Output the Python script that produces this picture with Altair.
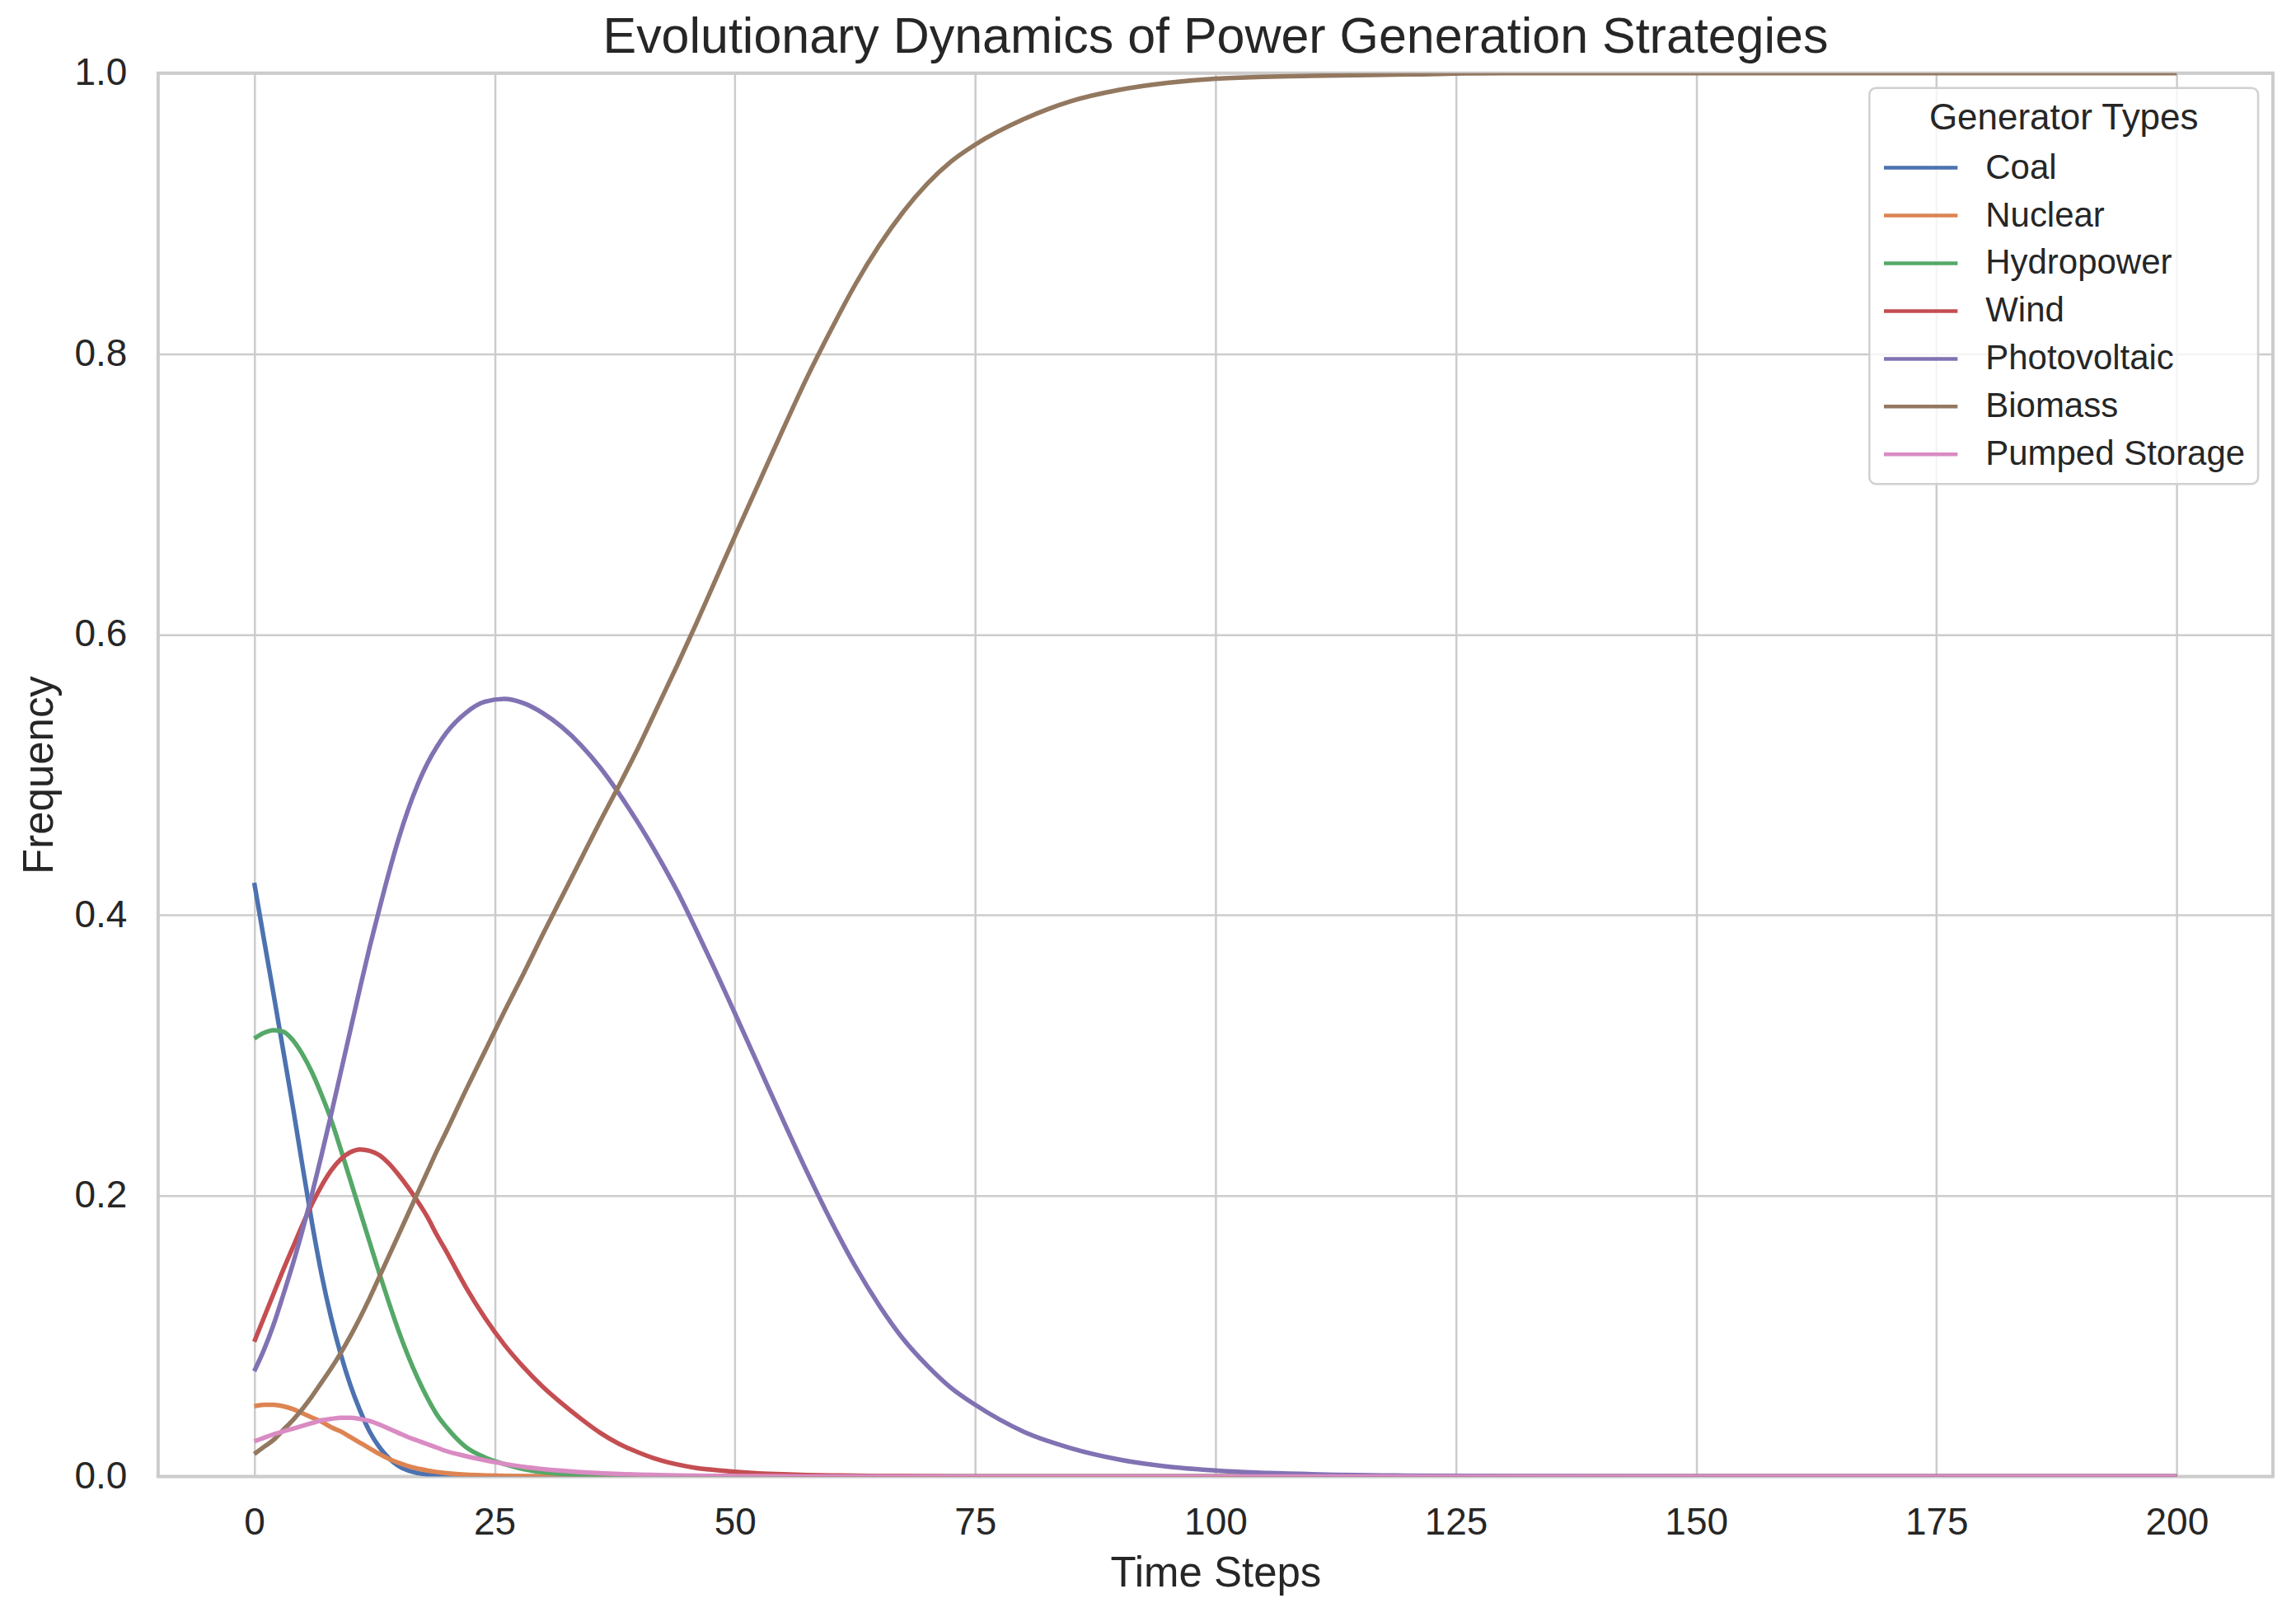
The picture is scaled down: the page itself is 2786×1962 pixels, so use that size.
import altair as alt
import pandas as pd

# ---- data ----
time_steps = [0, 1, 2, 3, 4, 5, 6, 7, 8, 9, 10, 11, 12, 13, 14, 15, 16, 17, 18, 19, 20,
              22, 24, 26, 28, 30, 32, 34, 36, 38, 40, 42, 44, 46, 48, 50,
              52.5, 55, 57.5, 60, 62.5, 65, 67.5, 70, 72.5, 75,
              80, 85, 90, 95, 100,
              110, 120, 130, 150, 175, 200]

categories = ["Coal", "Nuclear", "Hydropower", "Wind", "Photovoltaic", "Biomass", "Pumped Storage"]
colors = ["#4C72B0", "#DD8452", "#55A868", "#C44E52", "#8172B3", "#937860", "#DA8BC3"]

coal = [0.423, 0.383, 0.344, 0.304, 0.264, 0.222, 0.181, 0.144, 0.113, 0.087, 0.065, 0.047, 0.032, 0.021,
        0.013, 0.0075, 0.0042, 0.0024, 0.0013, 0.0007, 0.0004,
        0.0001, 0, 0, 0, 0, 0, 0, 0, 0, 0, 0, 0, 0, 0, 0,
        0, 0, 0, 0, 0, 0, 0, 0, 0, 0,
        0, 0, 0, 0, 0,
        0, 0, 0, 0, 0, 0]

nuclear = [0.050, 0.051, 0.051, 0.050, 0.048, 0.045, 0.042, 0.039, 0.035, 0.032, 0.028, 0.024, 0.020, 0.016,
           0.0125, 0.0097, 0.0074, 0.0056, 0.0042, 0.0031, 0.0023,
           0.0012, 0.0007, 0.0004, 0.0002, 0.0001, 0, 0, 0, 0, 0, 0, 0, 0, 0, 0,
           0, 0, 0, 0, 0, 0, 0, 0, 0, 0,
           0, 0, 0, 0, 0,
           0, 0, 0, 0, 0, 0]

hydropower = [0.312, 0.316, 0.318, 0.317, 0.311, 0.301, 0.288, 0.272, 0.254, 0.233, 0.211, 0.189, 0.167, 0.145,
              0.124, 0.104, 0.086, 0.070, 0.056, 0.044, 0.035,
              0.021, 0.0135, 0.0088, 0.0052, 0.0030, 0.0018, 0.0011, 0.0007, 0.0004, 0.0002, 0.0001, 0, 0, 0, 0,
              0, 0, 0, 0, 0, 0, 0, 0, 0, 0,
              0, 0, 0, 0, 0,
              0, 0, 0, 0, 0, 0]

wind = [0.096, 0.113, 0.130, 0.147, 0.163, 0.179, 0.194, 0.207, 0.218, 0.226, 0.231, 0.233, 0.232, 0.229,
        0.223, 0.215, 0.206, 0.196, 0.185, 0.172, 0.160,
        0.135, 0.113, 0.094, 0.078, 0.064, 0.052, 0.041, 0.031, 0.023, 0.017, 0.012, 0.0085, 0.006, 0.0045, 0.0033,
        0.0022, 0.0015, 0.001, 0.0007, 0.0005, 0.0003, 0.0002, 0.0001, 0, 0,
        0, 0, 0, 0, 0,
        0, 0, 0, 0, 0, 0]

photovoltaic = [0.075, 0.090, 0.108, 0.129, 0.151, 0.175, 0.201, 0.229, 0.258, 0.288, 0.318, 0.348, 0.377, 0.404,
                0.430, 0.454, 0.475, 0.493, 0.508, 0.520, 0.530,
                0.544, 0.552, 0.554, 0.551, 0.544, 0.534, 0.521, 0.505, 0.486, 0.465, 0.442, 0.417, 0.389, 0.360, 0.330,
                0.292, 0.254, 0.217, 0.182, 0.150, 0.122, 0.098, 0.079, 0.063, 0.051,
                0.032, 0.020, 0.012, 0.007, 0.0042,
                0.0016, 0.0006, 0.0002, 0, 0, 0]

biomass = [0.016, 0.021, 0.026, 0.033, 0.040, 0.048, 0.057, 0.067, 0.077, 0.088, 0.100, 0.113, 0.127, 0.142,
           0.157, 0.172, 0.187, 0.202, 0.217, 0.232, 0.246,
           0.275, 0.303, 0.331, 0.358, 0.386, 0.413, 0.440, 0.467, 0.493, 0.520, 0.549, 0.578, 0.608, 0.639, 0.670,
           0.708, 0.746, 0.783, 0.817, 0.849, 0.877, 0.901, 0.921, 0.937, 0.949,
           0.967, 0.980, 0.988, 0.993, 0.996,
           0.998, 0.999, 1.0, 1.0, 1.0, 1.0]

pumped_storage = [0.025, 0.0275, 0.030, 0.032, 0.034, 0.036, 0.038, 0.040, 0.041, 0.0418, 0.0418, 0.041, 0.0395, 0.037,
                  0.034, 0.031, 0.028, 0.0255, 0.023, 0.0205, 0.018,
                  0.0145, 0.0115, 0.009, 0.0068, 0.0052, 0.004, 0.003, 0.0023, 0.0017, 0.0013, 0.001, 0.0007, 0.0005, 0.0004, 0.0003,
                  0.0002, 0.0001, 0, 0, 0, 0, 0, 0, 0, 0,
                  0, 0, 0, 0, 0,
                  0, 0, 0, 0, 0, 0]

x_ticks = [0, 25, 50, 75, 100, 125, 150, 175, 200]
y_ticks = [0.0, 0.2, 0.4, 0.6, 0.8, 1.0]

series = {
    "Coal": coal,
    "Nuclear": nuclear,
    "Hydropower": hydropower,
    "Wind": wind,
    "Photovoltaic": photovoltaic,
    "Biomass": biomass,
    "Pumped Storage": pumped_storage,
}

rows = []
for name in categories:
    for t, v in zip(time_steps, series[name]):
        rows.append({"Time": t, "Frequency": v, "Generator": name})
df = pd.DataFrame(rows)

FONT = "Liberation Sans"
TEXT = "#262626"
GRID = "#cccccc"

chart = (
    alt.Chart(df)
    .mark_line(interpolate="monotone", strokeWidth=5.5, clip=True)
    .encode(
        x=alt.X(
            "Time:Q",
            title="Time Steps",
            scale=alt.Scale(domain=[-10, 210], nice=False, zero=False),
            axis=alt.Axis(values=x_ticks, format="d", labelPadding=34, titlePadding=14),
        ),
        y=alt.Y(
            "Frequency:Q",
            title="Frequency",
            scale=alt.Scale(domain=[0, 1], nice=False),
            axis=alt.Axis(values=y_ticks, format=".1f", labelPadding=38, titlePadding=16),
        ),
        color=alt.Color(
            "Generator:N",
            sort=categories,
            scale=alt.Scale(domain=categories, range=colors),
            legend=alt.Legend(
                title="Generator Types",
                orient="top-right",
                offset=18,
                symbolType="M-1,0H3",
                symbolSize=2000,
                symbolStrokeWidth=4.5,
                labelOffset=76,
                rowPadding=12,
                padding=15,
                titlePadding=13,
                titleAnchor="middle",
                labelLimit=800,
                titleLimit=800,
                fillColor="rgba(255,255,255,0.8)",
                strokeColor="#d0d0d0",
                cornerRadius=8,
            ),
        ),
        order=alt.Order("Time:Q"),
    )
    .properties(
        width=2568,
        height=1704,
        title=alt.Title("Evolutionary Dynamics of Power Generation Strategies", frame="group", anchor="middle"),
        padding={"left": 14, "top": 6, "right": 20, "bottom": 10},
    )
    .configure_view(stroke=GRID, strokeWidth=4)
    .configure_axis(
        domain=False,
        ticks=False,
        grid=True,
        gridColor=GRID,
        gridWidth=2.5,
        labelFont=FONT,
        labelFontSize=46,
        labelColor=TEXT,
        titleFont=FONT,
        titleFontSize=51,
        titleColor=TEXT,
        titleFontWeight="normal",
    )
    .configure_title(font=FONT, fontSize=61, color=TEXT, fontWeight="normal", offset=-11)
    .configure_legend(
        labelFont=FONT,
        labelFontSize=42,
        labelColor=TEXT,
        titleFont=FONT,
        titleFontSize=44,
        titleColor=TEXT,
        titleFontWeight="normal",
        strokeWidth=2.5,
    )
)

chart.save("out.html", embed_options={"renderer": "svg", "actions": False})
